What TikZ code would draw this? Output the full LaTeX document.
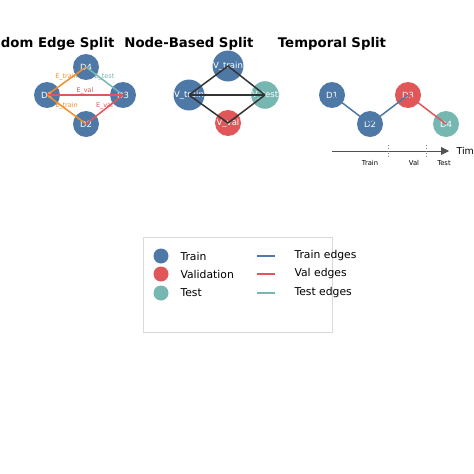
\documentclass[tikz,border=0pt]{standalone}
\usepackage{fontspec}
\setmainfont{DejaVu Sans}
\usetikzlibrary{arrows.meta}
\definecolor{trainc}{HTML}{4E79A7}
\definecolor{valc}{HTML}{E15759}
\definecolor{testc}{HTML}{76B7B2}
\definecolor{orangec}{HTML}{F28E2B}
\definecolor{darkc}{HTML}{333333}
\tikzset{
  dot/.style={circle,minimum size=26pt,inner sep=0pt,text=white,font=\fontsize{8.5}{9}\selectfont},
  ttl/.style={font=\fontsize{13.3}{14}\selectfont\bfseries,anchor=base},
  elab/.style={font=\fontsize{6.5}{7}\selectfont,midway,yshift=4pt},
  edge/.style={line width=1.5pt},
  lgd/.style={font=\fontsize{10.8}{12}\selectfont,anchor=west}
}
\begin{document}
\begin{tikzpicture}[x=1pt,y=-1pt]
\useasboundingbox (0,0) rectangle (474,474);
\fill[white] (0,0) rectangle (474,474);
\clip (0,0) rectangle (474,474);
% titles
\node[ttl,anchor=base east] (ttlA) at (118,47) {Random Edge Split};
\node[ttl] (ttlB) at (189,47) {Node-Based Split};
\node[ttl] (ttlC) at (332,47) {Temporal Split};
% random edge split
\node[dot,fill=trainc] (a4) at (86,67) {D4};
\node[dot,fill=trainc] (a1) at (47,95) {D1};
\node[dot,fill=trainc] (a3) at (123,95) {D3};
\node[dot,fill=trainc] (a2) at (86,124) {D2};
\draw[edge,orangec] (a4.center) -- node[elab,text=orangec] {E\_train} (a1.center);
\draw[edge,testc] (a4.center) -- node[elab,text=testc] {E\_test} (a3.center);
\draw[edge,valc] (a1.center) -- node[elab,text=valc] {E\_val} (a3.center);
\draw[edge,orangec] (a1.center) -- node[elab,text=orangec] {E\_train} (a2.center);
\draw[edge,valc] (a2.center) -- node[elab,text=valc] {E\_val} (a3.center);
% node-based split
\node[dot,fill=trainc] (b1) at (228,66) {V\_train};
\node[dot,fill=trainc] (b2) at (189,95) {V\_train};
\node[dot,fill=testc] (b3) at (265,95) {V\_test};
\node[dot,fill=valc] (b4) at (228,123) {V\_val};
\draw[edge,darkc] (b1.center) -- (b2.center);
\draw[edge,darkc] (b1.center) -- (b3.center);
\draw[edge,darkc] (b2.center) -- (b3.center);
\draw[edge,darkc] (b2.center) -- (b4.center);
\draw[edge,darkc] (b4.center) -- (b3.center);
% temporal split
\node[dot,fill=trainc] (c1) at (332,95) {D1};
\node[dot,fill=trainc] (c2) at (370,124) {D2};
\node[dot,fill=valc] (c3) at (408,95) {D3};
\node[dot,fill=testc] (c4) at (446,124) {D4};
\draw[edge,trainc] (c1.center) -- (c2.center);
\draw[edge,trainc] (c2.center) -- (c3.center);
\draw[edge,valc] (c3.center) -- (c4.center);
\coordinate (t0) at (332,151);
\coordinate (t1) at (449,151);
\draw[darkc!85,line width=0.9pt,-{Triangle[length=8pt,width=8pt]}] (t0) -- (t1);
\node[font=\fontsize{9.5}{10}\selectfont,anchor=west] (tm) at (453,151) {Time};
\draw[gray,dotted,line width=0.8pt] (388,145) -- (388,157);
\draw[gray,dotted,line width=0.8pt] (426,145) -- (426,157);
\node[font=\fontsize{6.8}{7}\selectfont] (lt) at (370,163) {Train};
\node[font=\fontsize{6.8}{7}\selectfont] (lv) at (414,163) {Val};
\node[font=\fontsize{6.8}{7}\selectfont] (ls) at (444,163) {Test};
% legend
\draw[black!15,line width=0.8pt] (143,237) rectangle (332,332);
\fill[trainc] (161,256) circle (7.5);
\fill[valc] (161,274) circle (7.5);
\fill[testc] (161,293) circle (7.5);
\node[lgd] (g1) at (177,256) {Train};
\node[lgd] (g2) at (177,274) {Validation};
\node[lgd] (g3) at (177,293) {Test};
\draw[trainc,line width=1.5pt] (257,256) -- (275,256);
\draw[valc,line width=1.5pt] (257,274) -- (275,274);
\draw[testc,line width=1.5pt] (257,293) -- (275,293);
\node[lgd] (g4) at (291,256) {Train edges};
\node[lgd] (g5) at (291,274) {Val edges};
\node[lgd] (g6) at (291,293) {Test edges};
\end{tikzpicture}
\end{document}
